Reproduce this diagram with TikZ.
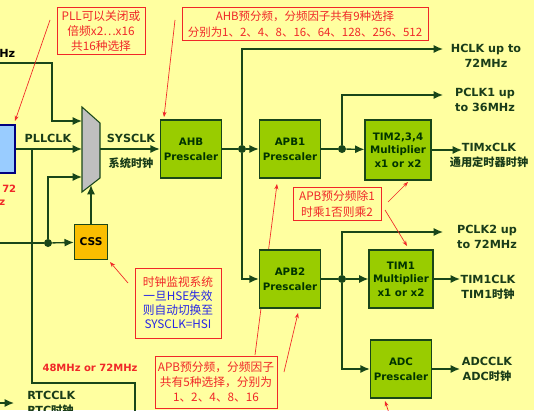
\documentclass[tikz,border=0pt]{standalone}
\usepackage{fontspec}
\setmainfont{DejaVu Sans}
\newfontfamily\zhfont{Noto Sans CJK SC}
\usetikzlibrary{arrows.meta, positioning}
\definecolor{bgyellow}{RGB}{255,255,160}
\definecolor{boxgreen}{RGB}{153,204,0}
\definecolor{wiregreen}{RGB}{25,70,25}
\definecolor{txtgreen}{RGB}{25,60,25}
\definecolor{cssorange}{RGB}{250,190,0}
\definecolor{pllblue}{RGB}{153,204,255}
\definecolor{notered}{RGB}{240,40,40}
\definecolor{noteblue}{RGB}{40,40,230}
\newcommand{\zh}[1]{{\zhfont #1}}

\begin{document}
\begin{tikzpicture}[x=0.75pt, y=-0.75pt, >={Latex[length=7pt,width=6pt]},
    wire/.style={draw=wiregreen, line width=1pt},
    prebox/.style={draw=wiregreen, fill=boxgreen, line width=0.8pt, inner sep=0pt,
        align=center, text=black!80!green, minimum width=46pt, minimum height=43.5pt,
        font=\bfseries\fontsize{7.7}{11}\selectfont},
    mulbox/.style={prebox, minimum width=48pt, font=\bfseries\fontsize{7.7}{10}\selectfont},
    dot/.style={circle, fill=wiregreen, inner sep=0pt, minimum size=6pt},
    lbl/.style={text=txtgreen, align=center, inner sep=0pt,
        font=\bfseries\fontsize{8.4}{11.3}\selectfont},
    redlbl/.style={text=notered, inner sep=0pt, font=\bfseries\fontsize{7.5}{10}\selectfont},
    note/.style={draw=notered, line width=0.6pt, text=notered, align=center, inner sep=0pt,
        font=\zhfont\fontsize{8.8}{11.5}\selectfont},
    notearrow/.style={draw=notered, line width=0.5pt, -{Stealth[length=4pt,width=3pt]}}]

    \useasboundingbox (0,0) rectangle (534,410);
    \fill[bgyellow] (0,0) rectangle (534,410);
    \clip (0,0) rectangle (534,410);

    \node[draw=blue!50!black, fill=pllblue, line width=0.8pt, minimum width=30pt, minimum height=36pt] (pll) at (-5,149) {};
    \draw[fill=gray!50, draw=wiregreen, line width=0.8pt] (82,107) -- (100,123) -- (100,178) -- (82,192) -- cycle;
    \coordinate (muxa) at (82,121);
    \coordinate (muxb) at (82,149);
    \coordinate (muxc) at (82,177);
    \coordinate (muxd) at (91,185);
    \coordinate (muxo) at (100,149);

    \node[draw=wiregreen, fill=cssorange, line width=0.8pt, minimum width=25pt, minimum height=26pt,
        inner sep=0pt, font=\bfseries\fontsize{8}{10}\selectfont] (css) at (91,242) {CSS};
    \node[prebox] (ahb) at (191,149) {AHB\\Prescaler};
    \node[prebox] (apb1) at (290,149) {APB1\\Prescaler};
    \node[mulbox, minimum width=49.5pt, minimum height=45pt] (tim234) at (398,150) {TIM2,3,4\\Multiplier\\x1 or x2};

    \coordinate (n3s) at (255,355);
    \coordinate (n3e) at (277,184);
    \draw[notearrow] (n3s) -- (n3e);

    \node[prebox] (apb2) at (290,279) {APB2\\Prescaler};
    \node[mulbox] (tim1) at (401,279) {TIM1\\Multiplier\\x1 or x2};
    \node[prebox] (adc) at (401,369) {ADC\\Prescaler};

    \node[dot] (jh) at (48,243) {};
    \node[dot] (j1) at (242,149) {};
    \node[dot] (j2) at (342,149) {};
    \node[dot] (j3) at (342,279) {};

    \coordinate (hsiin) at (0,63);
    \coordinate (hsein) at (0,243);
    \coordinate (pllt) at (32,149);
    \coordinate (usbout) at (135,415);
    \coordinate (rtcs) at (-2,403);
    \coordinate (rtce) at (14,403);
    \coordinate (hclkin) at (443,49);
    \coordinate (pclk1in) at (443,95);
    \coordinate (pclk2in) at (443,232);
    \coordinate (timxout) at (462,150);
    \coordinate (tim1out) at (460,279);
    \coordinate (adcout) at (460,369);

    \draw[wire,->] (hsiin) -- ++(52,0) |- (muxa);
    \draw[wire,->] (pll) -- (muxb);
    \draw[wire] (pllt) -- ++(0,234) -| (usbout);
    \draw[wire] (hsein) -- (jh);
    \draw[wire,->] (jh) -- (css);
    \draw[wire,->] (jh) |- (muxc);
    \draw[wire,->] (css) -- (muxd);
    \draw[wire,->] (muxo) -- (ahb);
    \draw[wire] (ahb) -- (j1);
    \draw[wire,->] (j1) -- (apb1);
    \draw[wire,->] (j1) |- (hclkin);
    \draw[wire,->] (j1) |- (apb2);
    \draw[wire] (apb1) -- (j2);
    \draw[wire,->] (j2) -- (tim234);
    \draw[wire,->] (j2) |- (pclk1in);
    \draw[wire,->] (tim234) -- (timxout);
    \draw[wire] (apb2) -- (j3);
    \draw[wire,->] (j3) -- (tim1);
    \draw[wire,->] (j3) |- (pclk2in);
    \draw[wire,->] (j3) |- (adc);
    \draw[wire,->] (tim1) -- (tim1out);
    \draw[wire,->] (adc) -- (adcout);
    \draw[wire,->] (rtcs) -- (rtce);

    \node[lbl] (pllclk) at (48,138) {PLLCLK};
    \node[lbl] (sysclk) at (131,138) {SYSCLK};
    \node[lbl] (syszh) at (131,163) {\zh{系统时钟}};
    \node[lbl] (hclk) at (486,56) {HCLK up to\\72MHz};
    \node[lbl] (pclk1) at (485,100) {PCLK1 up\\to 36MHz};
    \node[lbl] (timx) at (489,155) {TIMxCLK\\\zh{通用定时器时钟}};
    \node[lbl] (pclk2) at (487,237) {PCLK2 up\\to 72MHz};
    \node[lbl] (tim1clk) at (488,287) {TIM1CLK\\TIM1\zh{时钟}};
    \node[lbl] (adcclk) at (487,369) {ADCCLK\\ADC\zh{时钟}};
    \node[lbl, anchor=north west, align=left] (rtcclk) at (27,391) {RTCCLK\\RTC\zh{时钟}};
    \node[lbl, text=black, anchor=west] (hsefreq) at (-1,53) {Hz};
    \node[redlbl] (usbfreq) at (90,368) {48MHz or 72MHz};
    \node[redlbl, anchor=west] (pllmax) at (2,189) {72};
    \node[redlbl, anchor=west] (pllmaxu) at (-1,203) {z};

    \node[note, minimum width=66pt, minimum height=35pt] (pllnote) at (101,31) {PLL可以关闭或\\倍频x2…x16\\共16种选择};
    \node[note, minimum width=184.5pt, minimum height=25pt, font=\zhfont\fontsize{8.6}{11.5}\selectfont] (ahbnote) at (305,24) {AHB预分频，分频因子共有9种选择\\分别为1、2、4、8、16、64、128、256、512};
    \node[note, minimum width=66pt, minimum height=25pt] (mulnote) at (337,204) {APB预分频除1\\时乘1否则乘2};
    \node[note, minimum width=64.5pt, minimum height=52.5pt, text=noteblue,
        font=\zhfont\fontsize{8.8}{10.5}\selectfont] (cssnote) at (178,303) {\textcolor{notered}{时钟监视系统}\\一旦HSE失效\\则自动切换至\\SYSCLK=HSI};
    \node[note, minimum width=91.5pt, minimum height=39pt] (apbnote) at (216,382) {APB预分频，分频因子\\共有5种选择，分别为\\1、2、4、8、16};

    \coordinate (n1s) at (50,20);
    \coordinate (n1e) at (15,121);
    \coordinate (n2s) at (175,20);
    \coordinate (n2e) at (164,117);
    \coordinate (n4s) at (284,372);
    \coordinate (n4e) at (298,313);
    \coordinate (n5s) at (388,202);
    \coordinate (n5e) at (408,182);
    \coordinate (n6s) at (385,210);
    \coordinate (n6e) at (407,246);
    \coordinate (n7s) at (128,283);
    \coordinate (n7e) at (110,262);
    \coordinate (n8s) at (393,425);
    \coordinate (n8e) at (385,401);
    \draw[notearrow] (n1s) -- (n1e);
    \draw[notearrow] (n2s) -- (n2e);
    \draw[notearrow] (n4s) -- (n4e);
    \draw[notearrow] (n5s) -- (n5e);
    \draw[notearrow] (n6s) -- (n6e);
    \draw[notearrow] (n7s) -- (n7e);
    \draw[notearrow] (n8s) -- (n8e);
\end{tikzpicture}
\end{document}
